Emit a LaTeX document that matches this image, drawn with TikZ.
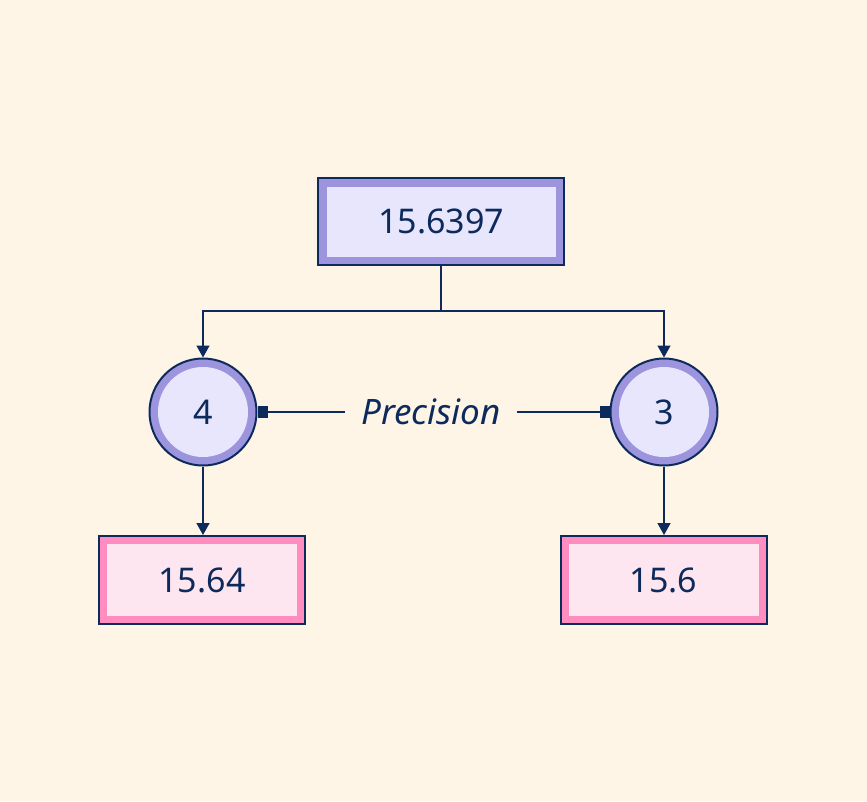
\documentclass[tikz,border=0pt]{standalone}
\usepackage{fontspec}
\setmainfont{Noto Sans}
\usetikzlibrary{arrows.meta}
\definecolor{bg}{HTML}{FFF5E6}
\definecolor{navy}{HTML}{0C2A5C}
\definecolor{lavfill}{HTML}{E8E6FD}
\definecolor{lavband}{HTML}{9C95DE}
\definecolor{pinkfill}{HTML}{FEE6F0}
\definecolor{pinkband}{HTML}{FF8DBF}
\tikzset{
  boxbase/.style={draw=navy, line width=2pt, text=navy, font=\fontsize{34}{40}\selectfont, inner sep=0pt},
  lavbox/.style={boxbase, rectangle, fill=lavband, minimum width=246pt, minimum height=87pt,
    path picture={\fill[lavfill] ([shift={(8.5pt,8.5pt)}]path picture bounding box.south west) rectangle ([shift={(-8.5pt,-8.5pt)}]path picture bounding box.north east);}},
  pinkbox/.style={boxbase, rectangle, fill=pinkband, minimum width=206pt, minimum height=88pt,
    path picture={\fill[pinkfill] ([shift={(8pt,8pt)}]path picture bounding box.south west) rectangle ([shift={(-8pt,-8pt)}]path picture bounding box.north east);}},
  lavcirc/.style={boxbase, circle, fill=lavband, minimum size=107pt,
    path picture={\fill[lavfill] (path picture bounding box.center) circle[radius=45pt];}},
  conn/.style={draw=navy, line width=1.5pt},
  arr/.style={conn, -{Triangle[length=12pt,width=13pt]}},
  sq/.style={conn, -{Square[length=10pt,width=12pt]}},
}
\begin{document}
\begin{tikzpicture}[x=1pt,y=-1pt]
\fill[bg] (0,0) rectangle (867,801);
\useasboundingbox (0,0) rectangle (867,801);
\node[lavbox] (top) at (441,221.5) {15.6397};
\node[lavcirc] (c1) at (203,412) {4};
\node[lavcirc] (c2) at (664,412) {3};
\node[pinkbox] (b1) at (202,580) {15.64};
\node[pinkbox] (b2) at (663.5,580) {15.6};
\node[text=navy, font=\fontsize{35}{40}\selectfont\itshape, inner sep=0pt, inner xsep=16pt] (lbl) at (431,412) {Precision};
\coordinate (j) at (441,311);
\draw[conn] (top.south) -- (j);
\draw[arr] (j) -| (c1.north);
\draw[arr] (j) -| (c2.north);
\draw[arr] (c1.south) -- (b1.north -| c1.south);
\draw[arr] (c2.south) -- (b2.north -| c2.south);
\draw[sq] (lbl.west) -- (c1.east);
\draw[sq] (lbl.east) -- (c2.west);
\end{tikzpicture}
\end{document}
